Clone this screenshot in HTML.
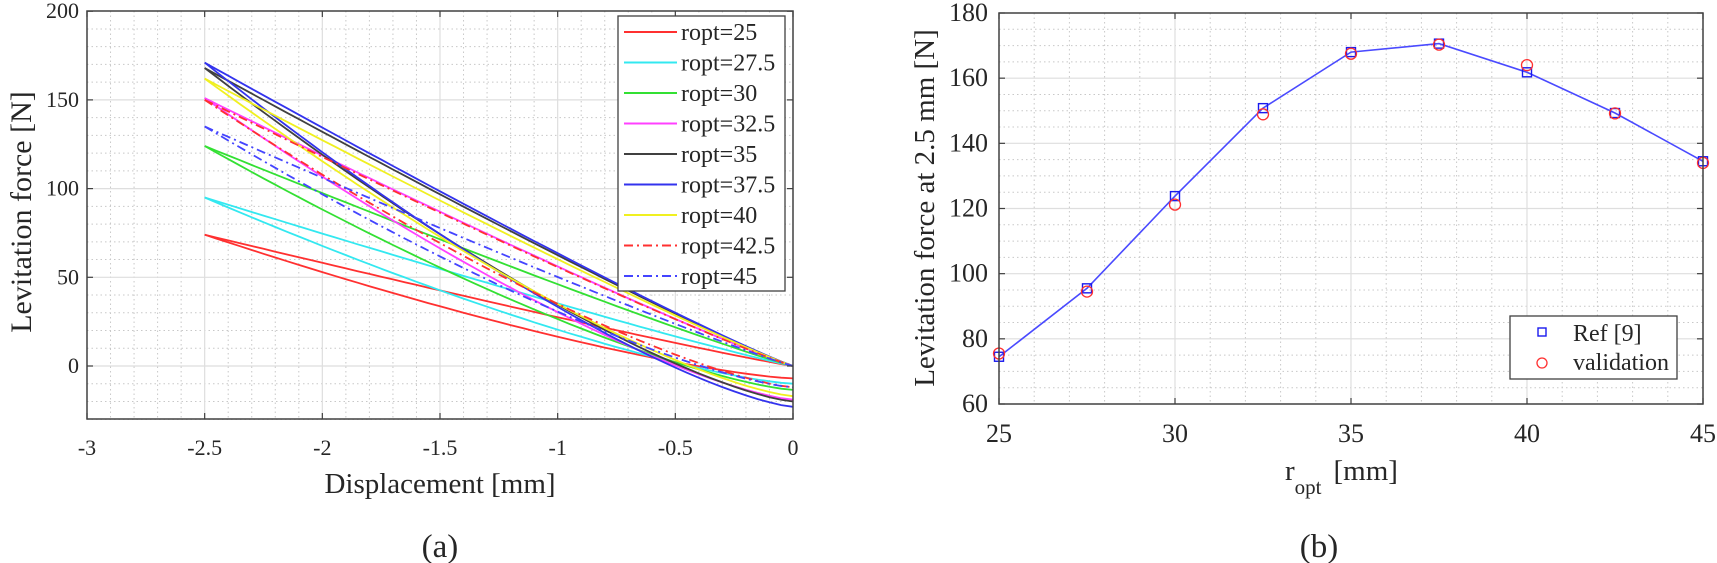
<!DOCTYPE html>
<html><head><meta charset="utf-8"><style>
html,body{margin:0;padding:0;background:#fff;}
svg{display:block;}
text{font-family:"Liberation Serif","DejaVu Serif","Times New Roman",serif;}
</style></head><body>
<svg id="s" width="1717" height="563" viewBox="0 0 1717 563" xmlns="http://www.w3.org/2000/svg"></svg>
<script>
const S=document.getElementById('s');let h='';
const FF='font-family="Liberation Serif, DejaVu Serif, serif"';
function L(x1,y1,x2,y2,c,w,d){h+=`<line x1="${x1}" y1="${y1}" x2="${x2}" y2="${y2}" stroke="${c}" stroke-width="${w}"${d?` stroke-dasharray="${d}"`:''}/>`;}
function T(x,y,t,fs,a,extra){h+=`<text x="${x}" y="${y}" ${FF} font-size="${fs}" fill="#262626" text-anchor="${a||'middle'}" ${extra||''}>${t}</text>`;}
// ---------- Left plot ----------
const LX0=87,LX1=793,LY0=11,LY1=419;
const lx=v=>LX0+(v+3)*(LX1-LX0)/3, ly=v=>366-v*1.774;
for(let i=0;i<=30;i++){const x=lx(-3+i*0.1); if(i%5) L(x,LY0,x,LY1,'#c8c8c8',1,'1.5 3');}
for(let v=-30;v<=200;v+=10){ if(v%50) L(LX0,ly(v),LX1,ly(v),'#c8c8c8',1,'1.5 3');}
for(let i=1;i<6;i++){const x=lx(-3+i*0.5);L(x,LY0,x,LY1,'#dedede',1.2);}
for(let v=0;v<200;v+=50)L(LX0,ly(v),LX1,ly(v),'#dedede',1.2);
const ser=[['#ff3030',74,-7,''],['#33e8f0',95,-10,''],['#33e033',124,-13.5,''],['#ff40ff',151,-19,''],['#404040',168,-20,''],['#3333ee',171,-23,''],['#f0f020',162,-17,''],['#ff3030',150,-12,'9 4 2 4'],['#4444ff',135,-12,'9 4 2 4']];
ser.forEach(s=>{
 let p1='',p2='';
 for(let i=0;i<=50;i++){const x=-2.5+2.5*i/50,t=-x/2.5;
  const u=s[1]*Math.pow(t,1.08); const l=s[2]+(s[1]-s[2])*Math.pow(t,1.35);
  p1+=(i?'L':'M')+lx(x).toFixed(1)+' '+ly(u).toFixed(1);
  p2+=(i?'L':'M')+lx(x).toFixed(1)+' '+ly(l).toFixed(1);}
 h+=`<path d="${p1}" fill="none" stroke="${s[0]}" stroke-width="1.8"${s[3]?` stroke-dasharray="${s[3]}"`:''}/>`;
 h+=`<path d="${p2}" fill="none" stroke="${s[0]}" stroke-width="1.8"${s[3]?` stroke-dasharray="${s[3]}"`:''}/>`;
});
h+=`<rect x="${LX0}" y="${LY0}" width="${LX1-LX0}" height="${LY1-LY0}" fill="none" stroke="#404040" stroke-width="1.5"/>`;
for(let i=0;i<=6;i++){const x=lx(-3+i*0.5);L(x,LY1,x,LY1-6,'#404040',1.2);L(x,LY0,x,LY0+6,'#404040',1.2);T(x,455,['-3','-2.5','-2','-1.5','-1','-0.5','0'][i],22);}
for(let v=0;v<=200;v+=50){L(LX0,ly(v),LX0+6,ly(v),'#404040',1.2);L(LX1,ly(v),LX1-6,ly(v),'#404040',1.2);T(79,ly(v)+7,v,22,'end');}
// legend
h+=`<rect x="618" y="16" width="167" height="275" fill="#fff" stroke="#404040" stroke-width="1.3"/>`;
const names=['25','27.5','30','32.5','35','37.5','40','42.5','45'];
ser.forEach((s,i)=>{const y=32+i*30.5;L(624,y,677,y,s[0],2,s[3]?'9 4 2 4':'');T(681,y+8,'ropt='+names[i],24,'start');});
T(440,493,'Displacement [mm]',29);
T(22,212,'Levitation force [N]',30,'middle','transform="rotate(-90 22 212)" dy="9"');
T(440,557,'(a)',33);
// ---------- Right plot ----------
const RX0=999,RX1=1703,RY0=13,RY1=404;
const rx=v=>RX0+(v-25)*(RX1-RX0)/20, ry=v=>RY1-(v-60)*(RY1-RY0)/120;
for(let v=25;v<=45;v++){ if(v%5) L(rx(v),RY0,rx(v),RY1,'#c8c8c8',1,'1.5 3');}
for(let v=60;v<=180;v+=5){ if(v%20) L(RX0,ry(v),RX1,ry(v),'#c8c8c8',1,'1.5 3');}
for(let v=30;v<45;v+=5)L(rx(v),RY0,rx(v),RY1,'#dedede',1.2);
for(let v=80;v<180;v+=20)L(RX0,ry(v),RX1,ry(v),'#dedede',1.2);
const rr=[25,27.5,30,32.5,35,37.5,40,42.5,45];
const ref=[74.5,95.5,123.8,150.8,168,170.6,161.8,149.3,134.5];
const val=[75.5,94.5,121.2,148.9,167.5,170.3,164,149.2,134];
h+=`<polyline points="${rr.map((r,i)=>rx(r).toFixed(1)+','+ry(ref[i]).toFixed(1)).join(' ')}" fill="none" stroke="#4a4aff" stroke-width="1.6"/>`;
rr.forEach((r,i)=>{h+=`<rect x="${rx(r)-4.5}" y="${ry(ref[i])-4.5}" width="9" height="9" fill="none" stroke="#1a1aee" stroke-width="1.4"/>`;
 h+=`<circle cx="${rx(r)}" cy="${ry(val[i])}" r="5.5" fill="none" stroke="#ff3030" stroke-width="1.3"/>`;});
h+=`<rect x="${RX0}" y="${RY0}" width="${RX1-RX0}" height="${RY1-RY0}" fill="none" stroke="#404040" stroke-width="1.5"/>`;
for(let v=25;v<=45;v+=5){L(rx(v),RY1,rx(v),RY1-6,'#404040',1.2);L(rx(v),RY0,rx(v),RY0+6,'#404040',1.2);T(rx(v),442,v,26);}
for(let v=60;v<=180;v+=20){L(RX0,ry(v),RX0+6,ry(v),'#404040',1.2);L(RX1,ry(v),RX1-6,ry(v),'#404040',1.2);T(988,ry(v)+8,v,26,'end');}
h+=`<rect x="1510" y="316" width="167" height="63" fill="#fff" stroke="#404040" stroke-width="1.3"/>`;
h+=`<rect x="1538" y="328" width="8" height="8" fill="none" stroke="#1a1aee" stroke-width="1.4"/>`;
h+=`<circle cx="1542" cy="363" r="5" fill="none" stroke="#ff3030" stroke-width="1.3"/>`;
T(1573,341,'Ref [9]',24,'start');T(1573,370,'validation',24,'start');
h+=`<text x="1285" y="480" ${FF} font-size="29" fill="#262626">r<tspan font-size="21" dy="14">opt</tspan><tspan dy="-14" dx="12">[mm]</tspan></text>`;
T(925,208,'Levitation force at 2.5 mm [N]',29,'middle','transform="rotate(-90 925 208)" dy="9"');
T(1319,557,'(b)',33);
S.innerHTML=h;
</script>
</body></html>
